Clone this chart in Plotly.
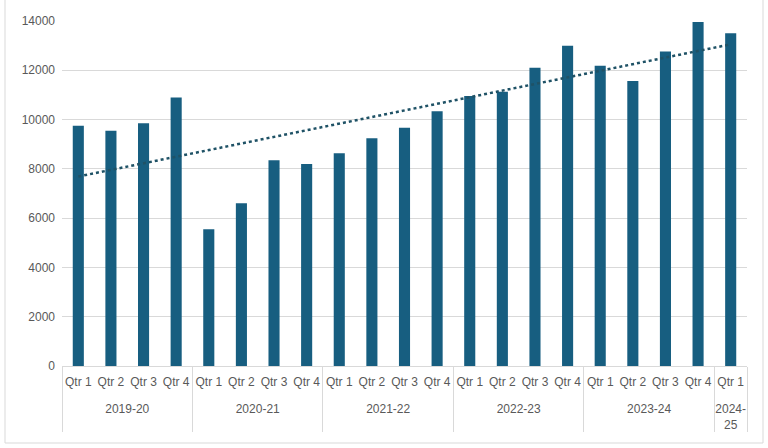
import numpy as np
import plotly.graph_objects as go

# financial years and quarters (multi-level category axis)
years = ["2019-20"] * 4 + ["2020-21"] * 4 + ["2021-22"] * 4 + ["2022-23"] * 4 + ["2023-24"] * 4 + ["2024-<br>25"]
quarters = ["Qtr 1", "Qtr 2", "Qtr 3", "Qtr 4"] * 5 + ["Qtr 1"]
values = [9750, 9550, 9850, 10900,
          5550, 6600, 8350, 8200,
          8630, 9240, 9670, 10340,
          10960, 11130, 12100, 13000,
          12180, 11570, 12760, 13960,
          13500]

bar_color = "#175E80"
trend_color = "#1F5266"
grid_color = "#D9D9D9"
text_color = "#595959"

# linear trendline, as Excel draws it
idx = np.arange(len(values))
slope, intercept = np.polyfit(idx, values, 1)
trend = slope * idx + intercept

# a blank line above the year labels gives the wider gap between the two rows
year_labels = ["<br>" + y for y in years]

fig = go.Figure()
fig.add_trace(go.Bar(
    x=[year_labels, quarters], y=values,
    marker=dict(color=bar_color, line=dict(width=0)),
    showlegend=False,
))
fig.add_trace(go.Scatter(
    x=[year_labels, quarters], y=trend, mode="lines",
    line=dict(color=trend_color, width=2.5, dash="dot"),
    showlegend=False, hoverinfo="skip",
))

W, H = 768, 448
ml, mr, mt, mb = 62, 21, 21, 82
pw, ph = W - ml - mr, H - mt - mb

# light frame round the whole chart
fig.add_shape(
    type="rect", xref="paper", yref="paper",
    x0=(5 - ml) / pw, x1=(763 - ml) / pw,
    y0=-(443 - mt - ph) / ph, y1=(H - mt - 5) / ph,
    line=dict(color=grid_color, width=1), layer="below",
)

fig.update_layout(
    width=W, height=H,
    margin=dict(l=ml, r=mr, t=mt, b=mb, autoexpand=False),
    plot_bgcolor="white", paper_bgcolor="white",
    font=dict(family="Liberation Sans, Arial", size=12, color=text_color),
    bargap=0.66,
    xaxis=dict(
        type="multicategory",
        showline=True, linecolor=grid_color, linewidth=1,
        showgrid=False, ticks="", tickangle=0, automargin=False,
        ticklabelstandoff=5,
        showdividers=True, dividercolor=grid_color, dividerwidth=1,
        tickfont=dict(size=12, color=text_color),
    ),
    yaxis=dict(
        range=[0, 14000], dtick=2000,
        showgrid=True, gridcolor=grid_color, gridwidth=1,
        zeroline=False, showline=False, ticks="", automargin=False,
        tickformat="d", ticklabelstandoff=6,
        tickfont=dict(size=12, color=text_color),
    ),
)

fig.write_html("out.html", config={"displayModeBar": False},
               post_script="document.body.style.margin='0';")
